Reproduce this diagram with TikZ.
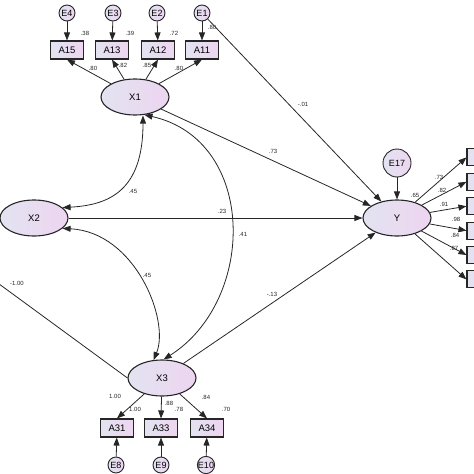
\documentclass[tikz,border=0pt]{standalone}
\usepackage{fontspec}
\setmainfont{Liberation Sans}
\usetikzlibrary{shapes.geometric,arrows.meta}

\definecolor{semline}{HTML}{262626}
\definecolor{semleft}{HTML}{E3E3F1}
\definecolor{semright}{HTML}{EDD5F0}

\begin{document}
\begin{tikzpicture}[x=1pt,y=-1pt,
    latent/.style={ellipse,draw=semline,line width=1.1pt,left color=semleft,right color=semright,minimum width=68pt,minimum height=36pt,inner sep=0pt,font=\fontsize{9.5}{10}\selectfont},
    obs/.style={rectangle,draw=semline,line width=1.1pt,left color=semleft,right color=semright,minimum width=33pt,minimum height=18pt,inner sep=0pt,font=\fontsize{9.5}{10}\selectfont},
    err/.style={circle,draw=semline,line width=0.9pt,left color=semleft,right color=semright,minimum size=16pt,inner sep=0pt,font=\fontsize{9}{9}\selectfont},
    reg/.style={semline,line width=0.8pt,-{Triangle[length=8pt,width=6pt]}},
    cov/.style={semline,line width=0.8pt,{Triangle[length=8pt,width=6pt]}-{Triangle[length=8pt,width=6pt]}},
    num/.style={font=\fontsize{6}{6}\selectfont,text=semline,inner sep=0pt}]
    \useasboundingbox (0,0) rectangle (474,474);
    \clip (0,0) rectangle (474,474);

    % Faktoren
    \node[latent] (X1) at (135,97) {X1};
    \node[latent] (X2) at (34,218) {X2};
    \node[latent] (X3) at (162,378) {X3};
    \node[latent] (Y) at (397,218) {Y};

    % Indikatoren
    \node[obs] (A15) at (67,50) {A15};
    \node[obs] (A13) at (112,50) {A13};
    \node[obs] (A12) at (158,50) {A12};
    \node[obs] (A11) at (202,50) {A11};
    \node[obs] (A31) at (117,428) {A31};
    \node[obs] (A33) at (161,428) {A33};
    \node[obs] (A34) at (207,428) {A34};
    \foreach \i in {1,...,6}
        \node[obs,minimum width=34pt,minimum height=17pt] (Y\i) at (484,{133+24.4*\i}) {};

    % Fehler
    \node[err] (E4) at (67,13) {E4};
    \node[err] (E3) at (113,13) {E3};
    \node[err] (E2) at (157,13) {E2};
    \node[err] (E1) at (202,13) {E1};
    \node[err] (E8) at (116,465) {E8};
    \node[err] (E9) at (161,465) {E9};
    \node[err] (E10) at (206,465) {E10};
    \node[err,minimum size=28pt] (E17) at (397,163) {E17};
    \coordinate (off) at (-5,281);

    % Pfade
    \draw[reg] (E4) -- (A15);
    \draw[reg] (E3) -- (A13);
    \draw[reg] (E2) -- (A12);
    \draw[reg] (E1) -- (A11);
    \draw[reg] (X1) -- (A15.south);
    \draw[reg] (X1) -- (A13.south);
    \draw[reg] (X1) -- (A12.south);
    \draw[reg] (X1) -- (A11.south);
    \draw[reg] (E8) -- (A31);
    \draw[reg] (E9) -- (A33);
    \draw[reg] (E10) -- (A34);
    \draw[reg] (X3) -- (A31.north);
    \draw[reg] (X3) -- (A33.north);
    \draw[reg] (X3) -- (A34.north);
    \draw[reg] (E17) -- (Y);
    \foreach \i in {1,...,6}
        \draw[reg] (Y) -- (Y\i.west);
    \draw[reg] (E1) -- (Y);
    \draw[reg] (X1) -- (Y);
    \draw[reg] (X2) -- (Y);
    \draw[reg] (X3) -- (Y);
    \draw[semline,line width=0.8pt] (off) -- (X3.west);

    % Kovarianzen
    \draw[cov] (X1.south) ++(8,0) coordinate (c1) (c1) .. controls (143,190) and (110,205) .. (X2.20);
    \draw[cov] (X2.-20) .. controls (135,232) and (170,320) .. (X3.115);
    \draw[cov] (X1.-62) .. controls (257,140) and (257,300) .. (X3.85);

    % Beschriftungen
    \node[num] (r15) at (85,33) {.38};
    \node[num] (r13) at (130,33) {.39};
    \node[num] (r12) at (174,33) {.72};
    \node[num] (r11) at (212,27) {.80};
    \node[num] (l15) at (93,68) {.80};
    \node[num] (l13) at (123,65) {.82};
    \node[num] (l12) at (147,65) {.85};
    \node[num] (l11) at (179,68) {.80};
    \node[num] (l31) at (115,396) {1.00};
    \node[num] (r31) at (135,409) {1.00};
    \node[num] (l33) at (169,403) {.88};
    \node[num] (r33) at (179,409) {.78};
    \node[num] (l34) at (206,397) {.84};
    \node[num] (r34) at (226,409) {.70};
    \node[num] (rY) at (415,195) {.65};
    \node[num] (lY1) at (439,177) {.73};
    \node[num] (lY2) at (442,190) {.82};
    \node[num] (lY3) at (444,204) {.91};
    \node[num] (lY4) at (456,219) {.98};
    \node[num] (lY5) at (455,235) {.84};
    \node[num] (lY6) at (454,248) {.87};
    \node[num] (bE1) at (303,104) {-.01};
    \node[num] (bX1) at (273,151) {.73};
    \node[num] (bX2) at (222,211) {.23};
    \node[num] (bX3) at (272,294) {-.13};
    \node[num] (c12) at (133,191) {.45};
    \node[num] (c23) at (147,275) {.45};
    \node[num] (c13) at (243,234) {.41};
    \node[num] (loff) at (17,283) {-1.00};
\end{tikzpicture}
\end{document}
